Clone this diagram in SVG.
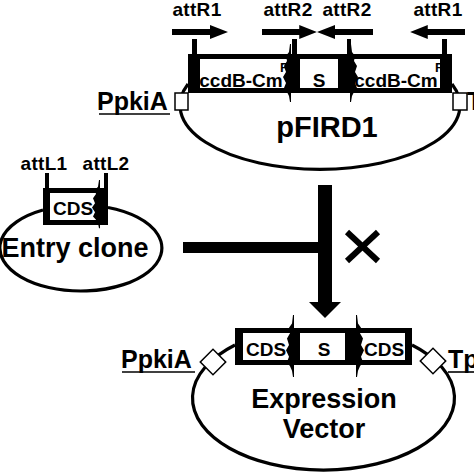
<svg xmlns="http://www.w3.org/2000/svg" width="474" height="474" viewBox="0 0 474 474">
<style>
.bk{fill:#000}
.wh{fill:#fff}
.ln{fill:none;stroke:#000;stroke-width:3.2}
.box{fill:#fff;stroke:#000;stroke-width:1.5}
.ul{stroke:#000;stroke-width:1.6}
.t{font-family:"Liberation Sans",Arial,sans-serif;font-weight:bold;fill:#000}
.lab{font-size:19px;text-anchor:middle;letter-spacing:0.3px}
.in{font-size:19px;text-anchor:middle}
.big{font-size:27px;text-anchor:middle}
.pr{font-size:25px}
.sup{font-size:13px}
</style>
<defs>
<path id="jag" d="M0 0 L-1 0 L-2 8 L-5 12 L-4 17 L-7 22 L-5 28 L-8 33 L-5 39 L-7 44 L-4 48 L-2 52 L-1 58 L0 58 Z"/>
<path id="arR" d="M0 -3 L38 -3 L38 -7 L56 0 L38 7 L38 3 L0 3 Z"/>
</defs>
<rect width="474" height="474" fill="#fff"/>

<g id="pFIRD1">
<path class="ln" d="M188 84 A140 64 0 1 0 452 84"/>
<rect class="bk" x="188" y="54" width="264" height="39"/>
<rect class="wh" x="200" y="59" width="90" height="29"/>
<rect class="wh" x="300" y="59" width="38" height="29"/>
<rect class="wh" x="351" y="59" width="89" height="29"/>
<use href="#jag" class="bk" transform="translate(291,44)"/>
<use href="#jag" class="bk" transform="translate(350,44) scale(-1,1)"/>
<rect class="bk" x="192" y="39" width="5" height="16"/>
<rect class="bk" x="292" y="39" width="5" height="16"/>
<rect class="bk" x="347" y="39" width="4" height="16"/>
<rect class="bk" x="442" y="39" width="5" height="16"/>
<use href="#arR" class="bk" transform="translate(172,32)"/>
<use href="#arR" class="bk" transform="translate(262,32) scale(0.98,1)"/>
<use href="#arR" class="bk" transform="translate(373,32) scale(-1,1)"/>
<use href="#arR" class="bk" transform="translate(465,32) scale(-0.98,1)"/>
<text class="t lab" x="197" y="16">attR1</text>
<text class="t lab" x="288" y="16">attR2</text>
<text class="t lab" x="347" y="16">attR2</text>
<text class="t lab" x="438" y="16">attR1</text>
<text class="t in" x="241" y="87">ccdB-Cm</text>
<text class="t sup" x="280" y="72">R</text>
<text class="t in" x="319" y="87">S</text>
<text class="t in" x="396" y="87">ccdB-Cm</text>
<text class="t sup" x="435" y="72">R</text>
<rect class="box" x="175" y="93" width="13" height="17"/>
<rect class="box" x="453" y="93" width="14" height="17"/>
<text class="t pr" x="97" y="110">PpkiA</text>
<line class="ul" x1="99" y1="114" x2="170" y2="114"/>
<text class="t pr" x="467" y="110">Tp</text>
<text class="t" x="327" y="137" font-size="29" text-anchor="middle">pFIRD1</text>
</g>

<g id="entry-clone">
<path class="ln" d="M43 210 A81 43 0 1 0 108 207.5"/>
<rect class="bk" x="43" y="188" width="65" height="37"/>
<rect class="wh" x="50" y="193" width="46" height="27"/>
<use href="#jag" class="bk" transform="translate(100,180) scale(1,0.83)"/>
<rect class="bk" x="45" y="173" width="4" height="16"/>
<rect class="bk" x="104" y="173" width="4" height="16"/>
<text class="t lab" x="44" y="170">attL1</text>
<text class="t lab" x="106" y="170">attL2</text>
<text class="t in" x="73" y="215">CDS</text>
<text class="t big" x="75" y="257">Entry clone</text>
</g>

<g id="connectors">
<rect class="bk" x="183" y="242" width="137" height="11"/>
<rect class="bk" x="318" y="185" width="14" height="118"/>
<polygon class="bk" points="309,302 341,302 325,318"/>
<line x1="347" y1="232" x2="378" y2="261" stroke="#000" stroke-width="6"/>
<line x1="378" y1="232" x2="347" y2="261" stroke="#000" stroke-width="6"/>
</g>

<g id="expression-vector">
<path class="ln" d="M235 345 A131 72 0 1 0 412 345"/>
<rect class="bk" x="235" y="328" width="177" height="37"/>
<rect class="wh" x="243" y="333" width="47" height="27"/>
<rect class="wh" x="300" y="333" width="45" height="27"/>
<rect class="wh" x="358" y="333" width="47" height="27"/>
<use href="#jag" class="bk" transform="translate(294,315) scale(1,1.07)"/>
<use href="#jag" class="bk" transform="translate(356,315) scale(-1,1.07)"/>
<text class="t in" x="266" y="356">CDS</text>
<text class="t in" x="324" y="356">S</text>
<text class="t in" x="384" y="356">CDS</text>
<rect class="box" x="204" y="353" width="18" height="18" transform="rotate(45 213 362)"/>
<rect class="box" x="424" y="352" width="18" height="18" transform="rotate(45 433 361)"/>
<text class="t pr" x="121" y="368">PpkiA</text>
<line class="ul" x1="122" y1="372" x2="195" y2="372"/>
<text class="t pr" x="448" y="368">Tp</text>
<line class="ul" x1="448" y1="372" x2="474" y2="372"/>
<text class="t big" x="324" y="408">Expression</text>
<text class="t big" x="324" y="438">Vector</text>
</g>
</svg>
